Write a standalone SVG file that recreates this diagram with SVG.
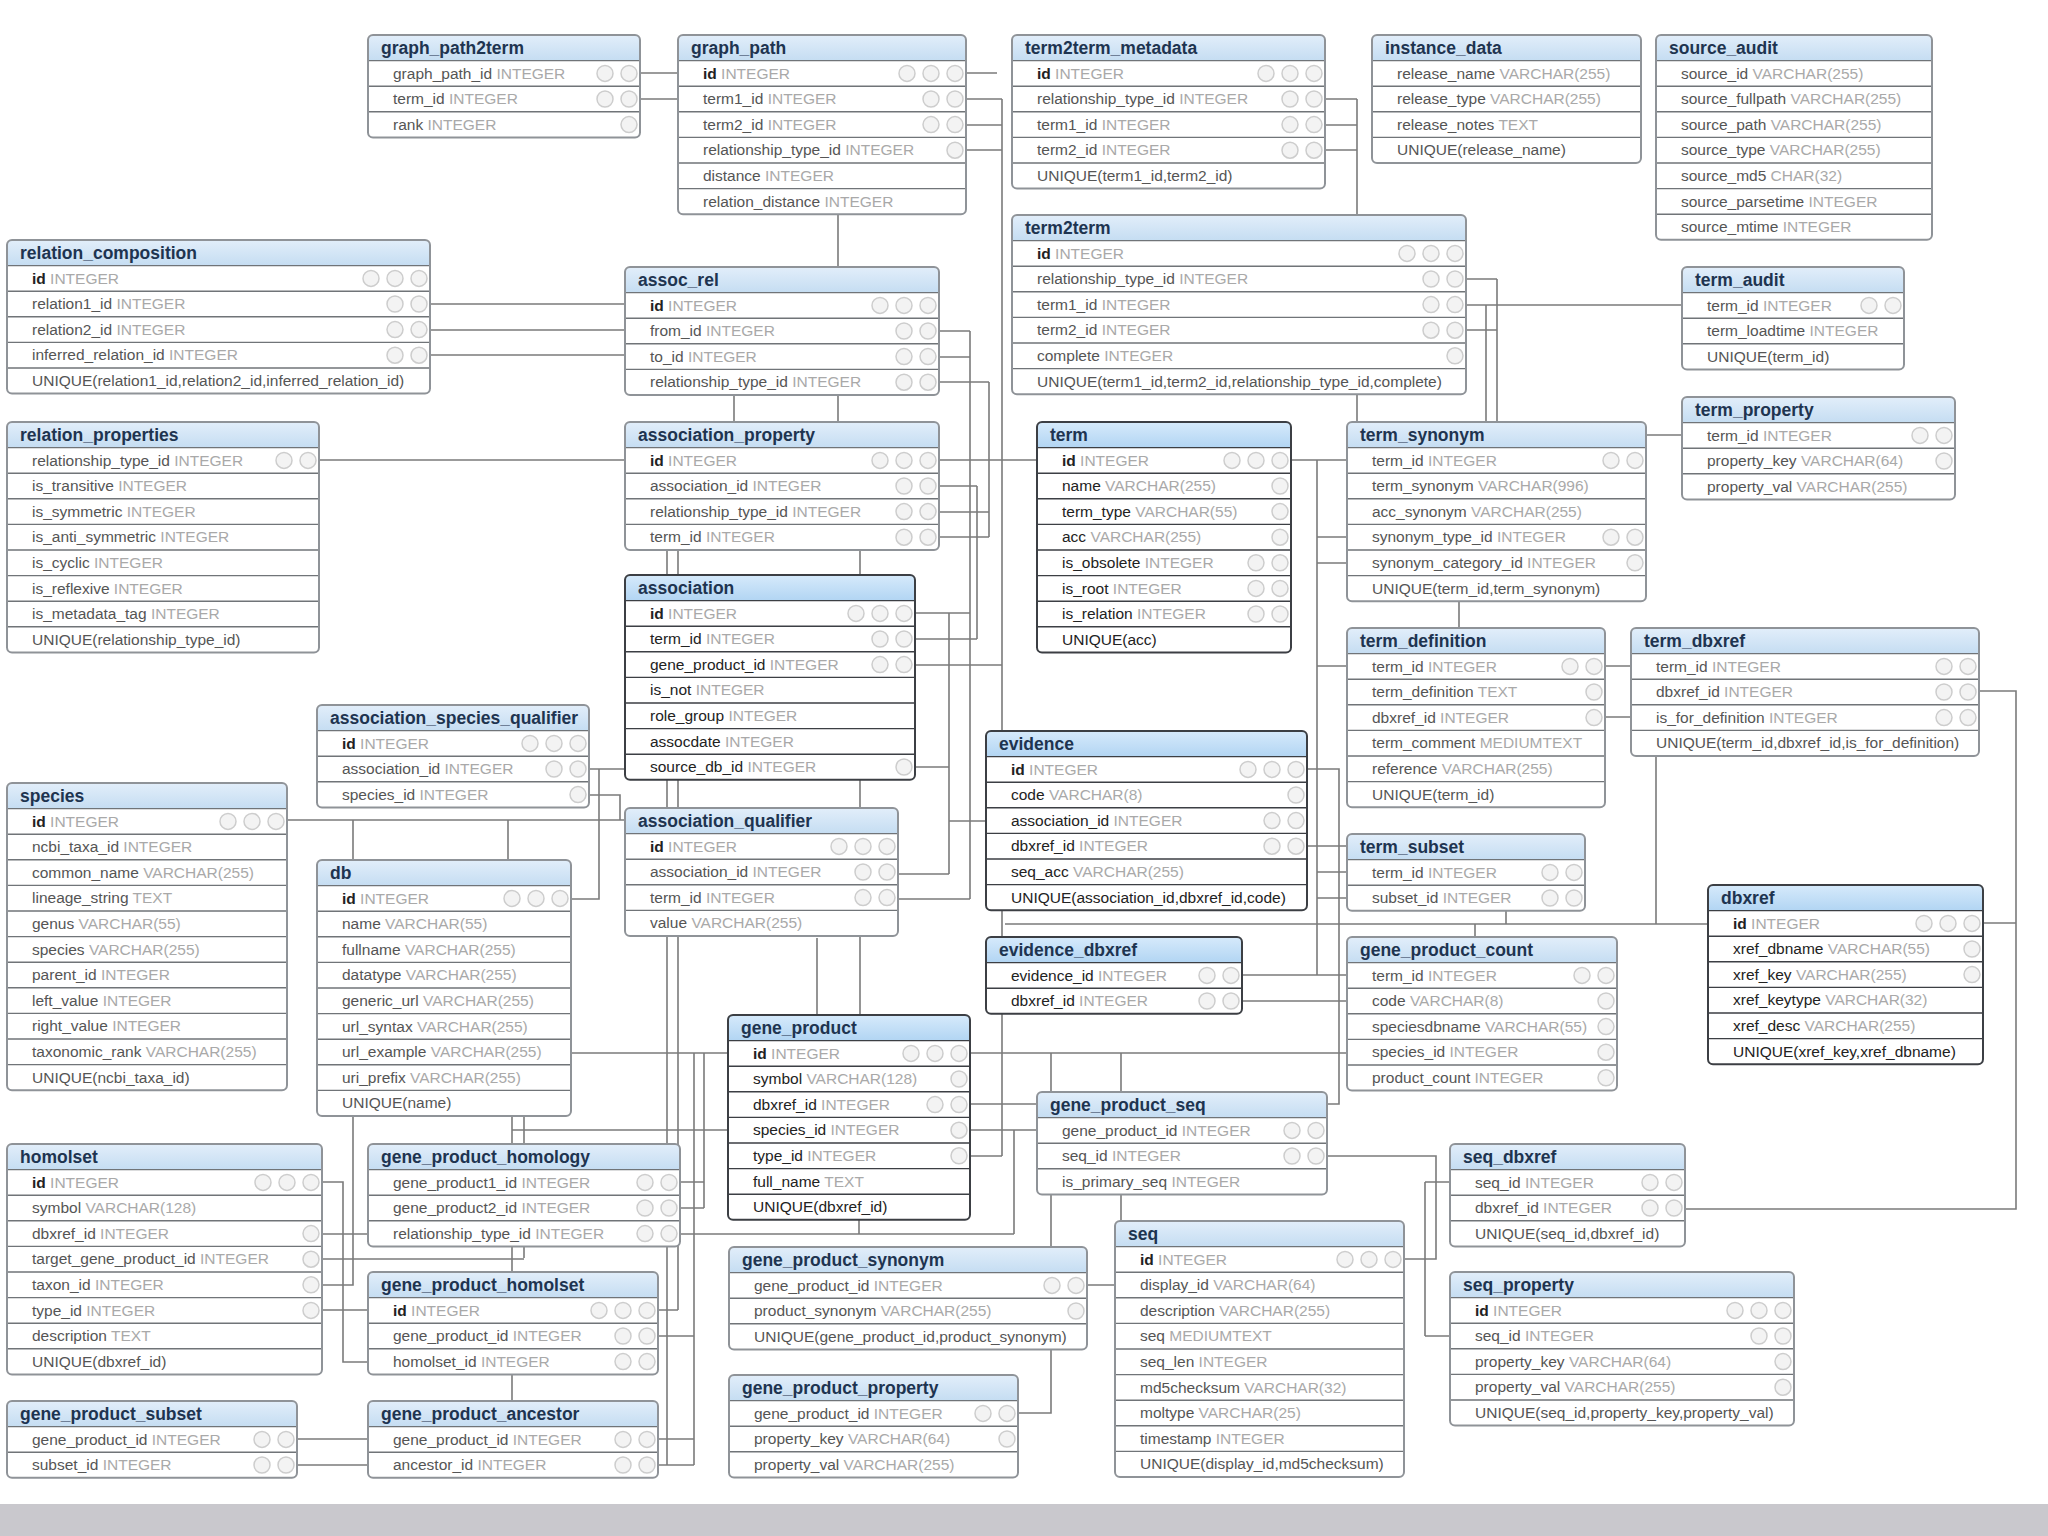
<svg xmlns="http://www.w3.org/2000/svg" xmlns:xlink="http://www.w3.org/1999/xlink" width="2048" height="1536" viewBox="0 0 2048 1536">
<defs>
<linearGradient id="hg" x1="0" y1="0" x2="0" y2="1"><stop offset="0" stop-color="#e2eefa"/><stop offset="1" stop-color="#c5ddf2"/></linearGradient>
<linearGradient id="hg2" x1="0" y1="0" x2="0" y2="1"><stop offset="0" stop-color="#d6eafb"/><stop offset="1" stop-color="#b2d5f3"/></linearGradient>
<g id="i1"><circle cx="-11" cy="0" r="8" class="ic"/></g>
<g id="i2"><circle cx="-35" cy="0" r="8" class="ic"/><circle cx="-11" cy="0" r="8" class="ic"/></g>
<g id="i3"><circle cx="-59" cy="0" r="8" class="ic"/><circle cx="-35" cy="0" r="8" class="ic"/><circle cx="-11" cy="0" r="8" class="ic"/></g>
</defs>
<style>
.cn{fill:none;stroke:#7b7b7b;stroke-width:1.6}
.bg{fill:#fff}
.hd{fill:url(#hg)}
.dk .hd{fill:url(#hg2)}
.ol{fill:none;stroke:#8f9398;stroke-width:2}
.dk .ol{stroke:#3c3f44}
.sp{fill:none;stroke:#707478;stroke-width:1.4}
.dk .sp{stroke:#3c3f44}
.h{font-family:"Liberation Sans",Arial,sans-serif;font-weight:bold;font-size:17.5px;fill:#1e3450}
.c{font-family:"Liberation Sans",Arial,sans-serif;font-size:15.5px;fill:#555}
.dk .c{fill:#222}
.t{fill:#a9a9a9}
.b{font-weight:bold;fill:#222}
.ic{fill:#f3f3f3;stroke:#cdcdcd;stroke-width:1.5}
</style>
<rect width="2048" height="1536" fill="#fff"/>
<rect x="0" y="1504" width="2048" height="32" fill="#c9c8cd"/>

<g id="connectors">
<path class="cn" d="M640,73H678 M640,99H678 M966,73H997
M966,99H1002 M966,125H1002 M966,150H1002 M1002,99V1156 M970,1156H1002
M1325,99H1357 M1325,125H1357 M1325,150H1357 M1357,99V215
M1466,279H1497 M1466,330H1497 M1466,305H1682 M1497,279V422 M1486,305V422 M1357,395V422
M1291,460H1347 M1317,460V975 M1317,537H1347 M1317,563H1347 M1317,666H1347 M1317,872H1347 M1317,898H1347 M1317,975H1347
M1646,435H1682 M1605,666H1631 M1605,717H1631 M1459,601V628
M1656,756V924 M1005,924H1708
M1983,923H2016V691H1979 M2016,923V1209H1685
M1506,911V924 M1475,924V937
M1307,769H1339V1104H1327 M1307,846H1347 M1242,975H1347 M1242,1001H1347
M949,821H986
M939,331H970 M939,357H970 M970,331V899 M898,899H970
M939,382H989 M989,382V537 M939,512H989 M939,537H989
M939,486H977 M977,486V639 M915,639H977 M915,613H970 M915,665H1002
M915,767H949 M949,613V874 M898,874H949
M939,460H1037 M319,460H625
M430,304H625 M430,330H625 M430,355H625
M838,214V422 M734,395V422 M667,550V1465 M678,550V1310 M860,550V1015 M817,938V1015
M589,769H625 M599,769V899H571 M589,795H620V820 M287,820H625 M353,820V860 M508,820V860
M571,1053H728 M694,1053V1465 M704,1053V1208 M680,1182H704 M680,1208H704 M680,1234H1014 M859,1220V1234 M1014,1130V1234
M970,1130H1037 M970,1104H1037 M970,1053H1347 M1051,1053V1413H1018 M1121,1053V1221
M658,1336H694 M658,1310H678 M658,1439H694 M658,1465H694
M512,1116V1401 M524,1116V1258 M322,1259H524 M512,1130H728
M1087,1285H1115 M1327,1156H1436V1259H1404 M1425,1182V1336 M1425,1182H1450 M1425,1336H1450
M322,1182H343V1362H368 M322,1234H368 M322,1285H353V1116 M322,1310H368 M297,1439H368 M297,1465H368"/>
</g>

<g id="graph_path2term" transform="translate(368,35)">
<rect class="bg" width="272" height="102.4" rx="5"/>
<path class="hd" d="M0,25.6V5a5,5 0 0 1 5-5H267a5,5 0 0 1 5,5V25.6Z"/>
<text class="h" x="13" y="18.5">graph_path2term</text>
<path class="sp" d="M0,25.6H272M0,51.2H272M0,76.8H272"/>
<text class="c" x="25" y="43.6">graph_path_id <tspan class="t">INTEGER</tspan></text>
<text class="c" x="25" y="69.2">term_id <tspan class="t">INTEGER</tspan></text>
<text class="c" x="25" y="94.8">rank <tspan class="t">INTEGER</tspan></text>
<use xlink:href="#i2" x="272" y="38.4"/><use xlink:href="#i2" x="272" y="64"/><use xlink:href="#i1" x="272" y="89.6"/>
<rect class="ol" width="272" height="102.4" rx="5"/>
</g>

<g id="graph_path" transform="translate(678,35)">
<rect class="bg" width="288" height="179.2" rx="5"/>
<path class="hd" d="M0,25.6V5a5,5 0 0 1 5-5H283a5,5 0 0 1 5,5V25.6Z"/>
<text class="h" x="13" y="18.5">graph_path</text>
<path class="sp" d="M0,25.6H288M0,51.2H288M0,76.8H288M0,102.4H288M0,128H288M0,153.6H288"/>
<text class="c" x="25" y="43.6"><tspan class="b">id</tspan> <tspan class="t">INTEGER</tspan></text>
<text class="c" x="25" y="69.2">term1_id <tspan class="t">INTEGER</tspan></text>
<text class="c" x="25" y="94.8">term2_id <tspan class="t">INTEGER</tspan></text>
<text class="c" x="25" y="120.4">relationship_type_id <tspan class="t">INTEGER</tspan></text>
<text class="c" x="25" y="146">distance <tspan class="t">INTEGER</tspan></text>
<text class="c" x="25" y="171.6">relation_distance <tspan class="t">INTEGER</tspan></text>
<use xlink:href="#i3" x="288" y="38.4"/><use xlink:href="#i2" x="288" y="64"/><use xlink:href="#i2" x="288" y="89.6"/><use xlink:href="#i1" x="288" y="115.2"/>
<rect class="ol" width="288" height="179.2" rx="5"/>
</g>

<g id="term2term_metadata" transform="translate(1012,35)">
<rect class="bg" width="313" height="153.6" rx="5"/>
<path class="hd" d="M0,25.6V5a5,5 0 0 1 5-5H308a5,5 0 0 1 5,5V25.6Z"/>
<text class="h" x="13" y="18.5">term2term_metadata</text>
<path class="sp" d="M0,25.6H313M0,51.2H313M0,76.8H313M0,102.4H313M0,128H313"/>
<text class="c" x="25" y="43.6"><tspan class="b">id</tspan> <tspan class="t">INTEGER</tspan></text>
<text class="c" x="25" y="69.2">relationship_type_id <tspan class="t">INTEGER</tspan></text>
<text class="c" x="25" y="94.8">term1_id <tspan class="t">INTEGER</tspan></text>
<text class="c" x="25" y="120.4">term2_id <tspan class="t">INTEGER</tspan></text>
<text class="c" x="25" y="146">UNIQUE(term1_id,term2_id)</text>
<use xlink:href="#i3" x="313" y="38.4"/><use xlink:href="#i2" x="313" y="64"/><use xlink:href="#i2" x="313" y="89.6"/><use xlink:href="#i2" x="313" y="115.2"/>
<rect class="ol" width="313" height="153.6" rx="5"/>
</g>

<g id="instance_data" transform="translate(1372,35)">
<rect class="bg" width="269" height="128" rx="5"/>
<path class="hd" d="M0,25.6V5a5,5 0 0 1 5-5H264a5,5 0 0 1 5,5V25.6Z"/>
<text class="h" x="13" y="18.5">instance_data</text>
<path class="sp" d="M0,25.6H269M0,51.2H269M0,76.8H269M0,102.4H269"/>
<text class="c" x="25" y="43.6">release_name <tspan class="t">VARCHAR(255)</tspan></text>
<text class="c" x="25" y="69.2">release_type <tspan class="t">VARCHAR(255)</tspan></text>
<text class="c" x="25" y="94.8">release_notes <tspan class="t">TEXT</tspan></text>
<text class="c" x="25" y="120.4">UNIQUE(release_name)</text>
<rect class="ol" width="269" height="128" rx="5"/>
</g>

<g id="source_audit" transform="translate(1656,35)">
<rect class="bg" width="276" height="204.8" rx="5"/>
<path class="hd" d="M0,25.6V5a5,5 0 0 1 5-5H271a5,5 0 0 1 5,5V25.6Z"/>
<text class="h" x="13" y="18.5">source_audit</text>
<path class="sp" d="M0,25.6H276M0,51.2H276M0,76.8H276M0,102.4H276M0,128H276M0,153.6H276M0,179.2H276"/>
<text class="c" x="25" y="43.6">source_id <tspan class="t">VARCHAR(255)</tspan></text>
<text class="c" x="25" y="69.2">source_fullpath <tspan class="t">VARCHAR(255)</tspan></text>
<text class="c" x="25" y="94.8">source_path <tspan class="t">VARCHAR(255)</tspan></text>
<text class="c" x="25" y="120.4">source_type <tspan class="t">VARCHAR(255)</tspan></text>
<text class="c" x="25" y="146">source_md5 <tspan class="t">CHAR(32)</tspan></text>
<text class="c" x="25" y="171.6">source_parsetime <tspan class="t">INTEGER</tspan></text>
<text class="c" x="25" y="197.2">source_mtime <tspan class="t">INTEGER</tspan></text>
<rect class="ol" width="276" height="204.8" rx="5"/>
</g>

<g id="relation_composition" transform="translate(7,240)">
<rect class="bg" width="423" height="153.6" rx="5"/>
<path class="hd" d="M0,25.6V5a5,5 0 0 1 5-5H418a5,5 0 0 1 5,5V25.6Z"/>
<text class="h" x="13" y="18.5">relation_composition</text>
<path class="sp" d="M0,25.6H423M0,51.2H423M0,76.8H423M0,102.4H423M0,128H423"/>
<text class="c" x="25" y="43.6"><tspan class="b">id</tspan> <tspan class="t">INTEGER</tspan></text>
<text class="c" x="25" y="69.2">relation1_id <tspan class="t">INTEGER</tspan></text>
<text class="c" x="25" y="94.8">relation2_id <tspan class="t">INTEGER</tspan></text>
<text class="c" x="25" y="120.4">inferred_relation_id <tspan class="t">INTEGER</tspan></text>
<text class="c" x="25" y="146">UNIQUE(relation1_id,relation2_id,inferred_relation_id)</text>
<use xlink:href="#i3" x="423" y="38.4"/><use xlink:href="#i2" x="423" y="64"/><use xlink:href="#i2" x="423" y="89.6"/><use xlink:href="#i2" x="423" y="115.2"/>
<rect class="ol" width="423" height="153.6" rx="5"/>
</g>

<g id="relation_properties" transform="translate(7,422)">
<rect class="bg" width="312" height="230.4" rx="5"/>
<path class="hd" d="M0,25.6V5a5,5 0 0 1 5-5H307a5,5 0 0 1 5,5V25.6Z"/>
<text class="h" x="13" y="18.5">relation_properties</text>
<path class="sp" d="M0,25.6H312M0,51.2H312M0,76.8H312M0,102.4H312M0,128H312M0,153.6H312M0,179.2H312M0,204.8H312"/>
<text class="c" x="25" y="43.6">relationship_type_id <tspan class="t">INTEGER</tspan></text>
<text class="c" x="25" y="69.2">is_transitive <tspan class="t">INTEGER</tspan></text>
<text class="c" x="25" y="94.8">is_symmetric <tspan class="t">INTEGER</tspan></text>
<text class="c" x="25" y="120.4">is_anti_symmetric <tspan class="t">INTEGER</tspan></text>
<text class="c" x="25" y="146">is_cyclic <tspan class="t">INTEGER</tspan></text>
<text class="c" x="25" y="171.6">is_reflexive <tspan class="t">INTEGER</tspan></text>
<text class="c" x="25" y="197.2">is_metadata_tag <tspan class="t">INTEGER</tspan></text>
<text class="c" x="25" y="222.8">UNIQUE(relationship_type_id)</text>
<use xlink:href="#i2" x="312" y="38.4"/>
<rect class="ol" width="312" height="230.4" rx="5"/>
</g>

<g id="assoc_rel" transform="translate(625,267)">
<rect class="bg" width="314" height="128" rx="5"/>
<path class="hd" d="M0,25.6V5a5,5 0 0 1 5-5H309a5,5 0 0 1 5,5V25.6Z"/>
<text class="h" x="13" y="18.5">assoc_rel</text>
<path class="sp" d="M0,25.6H314M0,51.2H314M0,76.8H314M0,102.4H314"/>
<text class="c" x="25" y="43.6"><tspan class="b">id</tspan> <tspan class="t">INTEGER</tspan></text>
<text class="c" x="25" y="69.2">from_id <tspan class="t">INTEGER</tspan></text>
<text class="c" x="25" y="94.8">to_id <tspan class="t">INTEGER</tspan></text>
<text class="c" x="25" y="120.4">relationship_type_id <tspan class="t">INTEGER</tspan></text>
<use xlink:href="#i3" x="314" y="38.4"/><use xlink:href="#i2" x="314" y="64"/><use xlink:href="#i2" x="314" y="89.6"/><use xlink:href="#i2" x="314" y="115.2"/>
<rect class="ol" width="314" height="128" rx="5"/>
</g>

<g id="association_property" transform="translate(625,422)">
<rect class="bg" width="314" height="128" rx="5"/>
<path class="hd" d="M0,25.6V5a5,5 0 0 1 5-5H309a5,5 0 0 1 5,5V25.6Z"/>
<text class="h" x="13" y="18.5">association_property</text>
<path class="sp" d="M0,25.6H314M0,51.2H314M0,76.8H314M0,102.4H314"/>
<text class="c" x="25" y="43.6"><tspan class="b">id</tspan> <tspan class="t">INTEGER</tspan></text>
<text class="c" x="25" y="69.2">association_id <tspan class="t">INTEGER</tspan></text>
<text class="c" x="25" y="94.8">relationship_type_id <tspan class="t">INTEGER</tspan></text>
<text class="c" x="25" y="120.4">term_id <tspan class="t">INTEGER</tspan></text>
<use xlink:href="#i3" x="314" y="38.4"/><use xlink:href="#i2" x="314" y="64"/><use xlink:href="#i2" x="314" y="89.6"/><use xlink:href="#i2" x="314" y="115.2"/>
<rect class="ol" width="314" height="128" rx="5"/>
</g>

<g id="term2term" transform="translate(1012,215)">
<rect class="bg" width="454" height="179.2" rx="5"/>
<path class="hd" d="M0,25.6V5a5,5 0 0 1 5-5H449a5,5 0 0 1 5,5V25.6Z"/>
<text class="h" x="13" y="18.5">term2term</text>
<path class="sp" d="M0,25.6H454M0,51.2H454M0,76.8H454M0,102.4H454M0,128H454M0,153.6H454"/>
<text class="c" x="25" y="43.6"><tspan class="b">id</tspan> <tspan class="t">INTEGER</tspan></text>
<text class="c" x="25" y="69.2">relationship_type_id <tspan class="t">INTEGER</tspan></text>
<text class="c" x="25" y="94.8">term1_id <tspan class="t">INTEGER</tspan></text>
<text class="c" x="25" y="120.4">term2_id <tspan class="t">INTEGER</tspan></text>
<text class="c" x="25" y="146">complete <tspan class="t">INTEGER</tspan></text>
<text class="c" x="25" y="171.6">UNIQUE(term1_id,term2_id,relationship_type_id,complete)</text>
<use xlink:href="#i3" x="454" y="38.4"/><use xlink:href="#i2" x="454" y="64"/><use xlink:href="#i2" x="454" y="89.6"/><use xlink:href="#i2" x="454" y="115.2"/><use xlink:href="#i1" x="454" y="140.8"/>
<rect class="ol" width="454" height="179.2" rx="5"/>
</g>

<g id="term_audit" transform="translate(1682,267)">
<rect class="bg" width="222" height="102.4" rx="5"/>
<path class="hd" d="M0,25.6V5a5,5 0 0 1 5-5H217a5,5 0 0 1 5,5V25.6Z"/>
<text class="h" x="13" y="18.5">term_audit</text>
<path class="sp" d="M0,25.6H222M0,51.2H222M0,76.8H222"/>
<text class="c" x="25" y="43.6">term_id <tspan class="t">INTEGER</tspan></text>
<text class="c" x="25" y="69.2">term_loadtime <tspan class="t">INTEGER</tspan></text>
<text class="c" x="25" y="94.8">UNIQUE(term_id)</text>
<use xlink:href="#i2" x="222" y="38.4"/>
<rect class="ol" width="222" height="102.4" rx="5"/>
</g>

<g id="term_property" transform="translate(1682,397)">
<rect class="bg" width="273" height="102.4" rx="5"/>
<path class="hd" d="M0,25.6V5a5,5 0 0 1 5-5H268a5,5 0 0 1 5,5V25.6Z"/>
<text class="h" x="13" y="18.5">term_property</text>
<path class="sp" d="M0,25.6H273M0,51.2H273M0,76.8H273"/>
<text class="c" x="25" y="43.6">term_id <tspan class="t">INTEGER</tspan></text>
<text class="c" x="25" y="69.2">property_key <tspan class="t">VARCHAR(64)</tspan></text>
<text class="c" x="25" y="94.8">property_val <tspan class="t">VARCHAR(255)</tspan></text>
<use xlink:href="#i2" x="273" y="38.4"/><use xlink:href="#i1" x="273" y="64"/>
<rect class="ol" width="273" height="102.4" rx="5"/>
</g>

<g id="term" class="dk" transform="translate(1037,422)">
<rect class="bg" width="254" height="230.4" rx="5"/>
<path class="hd" d="M0,25.6V5a5,5 0 0 1 5-5H249a5,5 0 0 1 5,5V25.6Z"/>
<text class="h" x="13" y="18.5">term</text>
<path class="sp" d="M0,25.6H254M0,51.2H254M0,76.8H254M0,102.4H254M0,128H254M0,153.6H254M0,179.2H254M0,204.8H254"/>
<text class="c" x="25" y="43.6"><tspan class="b">id</tspan> <tspan class="t">INTEGER</tspan></text>
<text class="c" x="25" y="69.2">name <tspan class="t">VARCHAR(255)</tspan></text>
<text class="c" x="25" y="94.8">term_type <tspan class="t">VARCHAR(55)</tspan></text>
<text class="c" x="25" y="120.4">acc <tspan class="t">VARCHAR(255)</tspan></text>
<text class="c" x="25" y="146">is_obsolete <tspan class="t">INTEGER</tspan></text>
<text class="c" x="25" y="171.6">is_root <tspan class="t">INTEGER</tspan></text>
<text class="c" x="25" y="197.2">is_relation <tspan class="t">INTEGER</tspan></text>
<text class="c" x="25" y="222.8">UNIQUE(acc)</text>
<use xlink:href="#i3" x="254" y="38.4"/><use xlink:href="#i1" x="254" y="64"/><use xlink:href="#i1" x="254" y="89.6"/><use xlink:href="#i1" x="254" y="115.2"/><use xlink:href="#i2" x="254" y="140.8"/><use xlink:href="#i2" x="254" y="166.4"/><use xlink:href="#i2" x="254" y="192"/>
<rect class="ol" width="254" height="230.4" rx="5"/>
</g>

<g id="term_synonym" transform="translate(1347,422)">
<rect class="bg" width="299" height="179.2" rx="5"/>
<path class="hd" d="M0,25.6V5a5,5 0 0 1 5-5H294a5,5 0 0 1 5,5V25.6Z"/>
<text class="h" x="13" y="18.5">term_synonym</text>
<path class="sp" d="M0,25.6H299M0,51.2H299M0,76.8H299M0,102.4H299M0,128H299M0,153.6H299"/>
<text class="c" x="25" y="43.6">term_id <tspan class="t">INTEGER</tspan></text>
<text class="c" x="25" y="69.2">term_synonym <tspan class="t">VARCHAR(996)</tspan></text>
<text class="c" x="25" y="94.8">acc_synonym <tspan class="t">VARCHAR(255)</tspan></text>
<text class="c" x="25" y="120.4">synonym_type_id <tspan class="t">INTEGER</tspan></text>
<text class="c" x="25" y="146">synonym_category_id <tspan class="t">INTEGER</tspan></text>
<text class="c" x="25" y="171.6">UNIQUE(term_id,term_synonym)</text>
<use xlink:href="#i2" x="299" y="38.4"/><use xlink:href="#i2" x="299" y="115.2"/><use xlink:href="#i1" x="299" y="140.8"/>
<rect class="ol" width="299" height="179.2" rx="5"/>
</g>

<g id="term_definition" transform="translate(1347,628)">
<rect class="bg" width="258" height="179.2" rx="5"/>
<path class="hd" d="M0,25.6V5a5,5 0 0 1 5-5H253a5,5 0 0 1 5,5V25.6Z"/>
<text class="h" x="13" y="18.5">term_definition</text>
<path class="sp" d="M0,25.6H258M0,51.2H258M0,76.8H258M0,102.4H258M0,128H258M0,153.6H258"/>
<text class="c" x="25" y="43.6">term_id <tspan class="t">INTEGER</tspan></text>
<text class="c" x="25" y="69.2">term_definition <tspan class="t">TEXT</tspan></text>
<text class="c" x="25" y="94.8">dbxref_id <tspan class="t">INTEGER</tspan></text>
<text class="c" x="25" y="120.4">term_comment <tspan class="t">MEDIUMTEXT</tspan></text>
<text class="c" x="25" y="146">reference <tspan class="t">VARCHAR(255)</tspan></text>
<text class="c" x="25" y="171.6">UNIQUE(term_id)</text>
<use xlink:href="#i2" x="258" y="38.4"/><use xlink:href="#i1" x="258" y="64"/><use xlink:href="#i1" x="258" y="89.6"/>
<rect class="ol" width="258" height="179.2" rx="5"/>
</g>

<g id="term_dbxref" transform="translate(1631,628)">
<rect class="bg" width="348" height="128" rx="5"/>
<path class="hd" d="M0,25.6V5a5,5 0 0 1 5-5H343a5,5 0 0 1 5,5V25.6Z"/>
<text class="h" x="13" y="18.5">term_dbxref</text>
<path class="sp" d="M0,25.6H348M0,51.2H348M0,76.8H348M0,102.4H348"/>
<text class="c" x="25" y="43.6">term_id <tspan class="t">INTEGER</tspan></text>
<text class="c" x="25" y="69.2">dbxref_id <tspan class="t">INTEGER</tspan></text>
<text class="c" x="25" y="94.8">is_for_definition <tspan class="t">INTEGER</tspan></text>
<text class="c" x="25" y="120.4">UNIQUE(term_id,dbxref_id,is_for_definition)</text>
<use xlink:href="#i2" x="348" y="38.4"/><use xlink:href="#i2" x="348" y="64"/><use xlink:href="#i2" x="348" y="89.6"/>
<rect class="ol" width="348" height="128" rx="5"/>
</g>

<g id="association" class="dk" transform="translate(625,575)">
<rect class="bg" width="290" height="204.8" rx="5"/>
<path class="hd" d="M0,25.6V5a5,5 0 0 1 5-5H285a5,5 0 0 1 5,5V25.6Z"/>
<text class="h" x="13" y="18.5">association</text>
<path class="sp" d="M0,25.6H290M0,51.2H290M0,76.8H290M0,102.4H290M0,128H290M0,153.6H290M0,179.2H290"/>
<text class="c" x="25" y="43.6"><tspan class="b">id</tspan> <tspan class="t">INTEGER</tspan></text>
<text class="c" x="25" y="69.2">term_id <tspan class="t">INTEGER</tspan></text>
<text class="c" x="25" y="94.8">gene_product_id <tspan class="t">INTEGER</tspan></text>
<text class="c" x="25" y="120.4">is_not <tspan class="t">INTEGER</tspan></text>
<text class="c" x="25" y="146">role_group <tspan class="t">INTEGER</tspan></text>
<text class="c" x="25" y="171.6">assocdate <tspan class="t">INTEGER</tspan></text>
<text class="c" x="25" y="197.2">source_db_id <tspan class="t">INTEGER</tspan></text>
<use xlink:href="#i3" x="290" y="38.4"/><use xlink:href="#i2" x="290" y="64"/><use xlink:href="#i2" x="290" y="89.6"/><use xlink:href="#i1" x="290" y="192"/>
<rect class="ol" width="290" height="204.8" rx="5"/>
</g>

<g id="association_species_qualifier" transform="translate(317,705)">
<rect class="bg" width="272" height="102.4" rx="5"/>
<path class="hd" d="M0,25.6V5a5,5 0 0 1 5-5H267a5,5 0 0 1 5,5V25.6Z"/>
<text class="h" x="13" y="18.5">association_species_qualifier</text>
<path class="sp" d="M0,25.6H272M0,51.2H272M0,76.8H272"/>
<text class="c" x="25" y="43.6"><tspan class="b">id</tspan> <tspan class="t">INTEGER</tspan></text>
<text class="c" x="25" y="69.2">association_id <tspan class="t">INTEGER</tspan></text>
<text class="c" x="25" y="94.8">species_id <tspan class="t">INTEGER</tspan></text>
<use xlink:href="#i3" x="272" y="38.4"/><use xlink:href="#i2" x="272" y="64"/><use xlink:href="#i1" x="272" y="89.6"/>
<rect class="ol" width="272" height="102.4" rx="5"/>
</g>

<g id="association_qualifier" transform="translate(625,808)">
<rect class="bg" width="273" height="128" rx="5"/>
<path class="hd" d="M0,25.6V5a5,5 0 0 1 5-5H268a5,5 0 0 1 5,5V25.6Z"/>
<text class="h" x="13" y="18.5">association_qualifier</text>
<path class="sp" d="M0,25.6H273M0,51.2H273M0,76.8H273M0,102.4H273"/>
<text class="c" x="25" y="43.6"><tspan class="b">id</tspan> <tspan class="t">INTEGER</tspan></text>
<text class="c" x="25" y="69.2">association_id <tspan class="t">INTEGER</tspan></text>
<text class="c" x="25" y="94.8">term_id <tspan class="t">INTEGER</tspan></text>
<text class="c" x="25" y="120.4">value <tspan class="t">VARCHAR(255)</tspan></text>
<use xlink:href="#i3" x="273" y="38.4"/><use xlink:href="#i2" x="273" y="64"/><use xlink:href="#i2" x="273" y="89.6"/>
<rect class="ol" width="273" height="128" rx="5"/>
</g>

<g id="evidence" class="dk" transform="translate(986,731)">
<rect class="bg" width="321" height="179.2" rx="5"/>
<path class="hd" d="M0,25.6V5a5,5 0 0 1 5-5H316a5,5 0 0 1 5,5V25.6Z"/>
<text class="h" x="13" y="18.5">evidence</text>
<path class="sp" d="M0,25.6H321M0,51.2H321M0,76.8H321M0,102.4H321M0,128H321M0,153.6H321"/>
<text class="c" x="25" y="43.6"><tspan class="b">id</tspan> <tspan class="t">INTEGER</tspan></text>
<text class="c" x="25" y="69.2">code <tspan class="t">VARCHAR(8)</tspan></text>
<text class="c" x="25" y="94.8">association_id <tspan class="t">INTEGER</tspan></text>
<text class="c" x="25" y="120.4">dbxref_id <tspan class="t">INTEGER</tspan></text>
<text class="c" x="25" y="146">seq_acc <tspan class="t">VARCHAR(255)</tspan></text>
<text class="c" x="25" y="171.6">UNIQUE(association_id,dbxref_id,code)</text>
<use xlink:href="#i3" x="321" y="38.4"/><use xlink:href="#i1" x="321" y="64"/><use xlink:href="#i2" x="321" y="89.6"/><use xlink:href="#i2" x="321" y="115.2"/>
<rect class="ol" width="321" height="179.2" rx="5"/>
</g>

<g id="evidence_dbxref" class="dk" transform="translate(986,937)">
<rect class="bg" width="256" height="76.8" rx="5"/>
<path class="hd" d="M0,25.6V5a5,5 0 0 1 5-5H251a5,5 0 0 1 5,5V25.6Z"/>
<text class="h" x="13" y="18.5">evidence_dbxref</text>
<path class="sp" d="M0,25.6H256M0,51.2H256"/>
<text class="c" x="25" y="43.6">evidence_id <tspan class="t">INTEGER</tspan></text>
<text class="c" x="25" y="69.2">dbxref_id <tspan class="t">INTEGER</tspan></text>
<use xlink:href="#i2" x="256" y="38.4"/><use xlink:href="#i2" x="256" y="64"/>
<rect class="ol" width="256" height="76.8" rx="5"/>
</g>

<g id="term_subset" transform="translate(1347,834)">
<rect class="bg" width="238" height="76.8" rx="5"/>
<path class="hd" d="M0,25.6V5a5,5 0 0 1 5-5H233a5,5 0 0 1 5,5V25.6Z"/>
<text class="h" x="13" y="18.5">term_subset</text>
<path class="sp" d="M0,25.6H238M0,51.2H238"/>
<text class="c" x="25" y="43.6">term_id <tspan class="t">INTEGER</tspan></text>
<text class="c" x="25" y="69.2">subset_id <tspan class="t">INTEGER</tspan></text>
<use xlink:href="#i2" x="238" y="38.4"/><use xlink:href="#i2" x="238" y="64"/>
<rect class="ol" width="238" height="76.8" rx="5"/>
</g>

<g id="gene_product_count" transform="translate(1347,937)">
<rect class="bg" width="270" height="153.6" rx="5"/>
<path class="hd" d="M0,25.6V5a5,5 0 0 1 5-5H265a5,5 0 0 1 5,5V25.6Z"/>
<text class="h" x="13" y="18.5">gene_product_count</text>
<path class="sp" d="M0,25.6H270M0,51.2H270M0,76.8H270M0,102.4H270M0,128H270"/>
<text class="c" x="25" y="43.6">term_id <tspan class="t">INTEGER</tspan></text>
<text class="c" x="25" y="69.2">code <tspan class="t">VARCHAR(8)</tspan></text>
<text class="c" x="25" y="94.8">speciesdbname <tspan class="t">VARCHAR(55)</tspan></text>
<text class="c" x="25" y="120.4">species_id <tspan class="t">INTEGER</tspan></text>
<text class="c" x="25" y="146">product_count <tspan class="t">INTEGER</tspan></text>
<use xlink:href="#i2" x="270" y="38.4"/><use xlink:href="#i1" x="270" y="64"/><use xlink:href="#i1" x="270" y="89.6"/><use xlink:href="#i1" x="270" y="115.2"/><use xlink:href="#i1" x="270" y="140.8"/>
<rect class="ol" width="270" height="153.6" rx="5"/>
</g>

<g id="dbxref" class="dk" transform="translate(1708,885)">
<rect class="bg" width="275" height="179.2" rx="5"/>
<path class="hd" d="M0,25.6V5a5,5 0 0 1 5-5H270a5,5 0 0 1 5,5V25.6Z"/>
<text class="h" x="13" y="18.5">dbxref</text>
<path class="sp" d="M0,25.6H275M0,51.2H275M0,76.8H275M0,102.4H275M0,128H275M0,153.6H275"/>
<text class="c" x="25" y="43.6"><tspan class="b">id</tspan> <tspan class="t">INTEGER</tspan></text>
<text class="c" x="25" y="69.2">xref_dbname <tspan class="t">VARCHAR(55)</tspan></text>
<text class="c" x="25" y="94.8">xref_key <tspan class="t">VARCHAR(255)</tspan></text>
<text class="c" x="25" y="120.4">xref_keytype <tspan class="t">VARCHAR(32)</tspan></text>
<text class="c" x="25" y="146">xref_desc <tspan class="t">VARCHAR(255)</tspan></text>
<text class="c" x="25" y="171.6">UNIQUE(xref_key,xref_dbname)</text>
<use xlink:href="#i3" x="275" y="38.4"/><use xlink:href="#i1" x="275" y="64"/><use xlink:href="#i1" x="275" y="89.6"/>
<rect class="ol" width="275" height="179.2" rx="5"/>
</g>

<g id="species" transform="translate(7,783)">
<rect class="bg" width="280" height="307.2" rx="5"/>
<path class="hd" d="M0,25.6V5a5,5 0 0 1 5-5H275a5,5 0 0 1 5,5V25.6Z"/>
<text class="h" x="13" y="18.5">species</text>
<path class="sp" d="M0,25.6H280M0,51.2H280M0,76.8H280M0,102.4H280M0,128H280M0,153.6H280M0,179.2H280M0,204.8H280M0,230.4H280M0,256H280M0,281.6H280"/>
<text class="c" x="25" y="43.6"><tspan class="b">id</tspan> <tspan class="t">INTEGER</tspan></text>
<text class="c" x="25" y="69.2">ncbi_taxa_id <tspan class="t">INTEGER</tspan></text>
<text class="c" x="25" y="94.8">common_name <tspan class="t">VARCHAR(255)</tspan></text>
<text class="c" x="25" y="120.4">lineage_string <tspan class="t">TEXT</tspan></text>
<text class="c" x="25" y="146">genus <tspan class="t">VARCHAR(55)</tspan></text>
<text class="c" x="25" y="171.6">species <tspan class="t">VARCHAR(255)</tspan></text>
<text class="c" x="25" y="197.2">parent_id <tspan class="t">INTEGER</tspan></text>
<text class="c" x="25" y="222.8">left_value <tspan class="t">INTEGER</tspan></text>
<text class="c" x="25" y="248.4">right_value <tspan class="t">INTEGER</tspan></text>
<text class="c" x="25" y="274">taxonomic_rank <tspan class="t">VARCHAR(255)</tspan></text>
<text class="c" x="25" y="299.6">UNIQUE(ncbi_taxa_id)</text>
<use xlink:href="#i3" x="280" y="38.4"/>
<rect class="ol" width="280" height="307.2" rx="5"/>
</g>

<g id="db" transform="translate(317,860)">
<rect class="bg" width="254" height="256" rx="5"/>
<path class="hd" d="M0,25.6V5a5,5 0 0 1 5-5H249a5,5 0 0 1 5,5V25.6Z"/>
<text class="h" x="13" y="18.5">db</text>
<path class="sp" d="M0,25.6H254M0,51.2H254M0,76.8H254M0,102.4H254M0,128H254M0,153.6H254M0,179.2H254M0,204.8H254M0,230.4H254"/>
<text class="c" x="25" y="43.6"><tspan class="b">id</tspan> <tspan class="t">INTEGER</tspan></text>
<text class="c" x="25" y="69.2">name <tspan class="t">VARCHAR(55)</tspan></text>
<text class="c" x="25" y="94.8">fullname <tspan class="t">VARCHAR(255)</tspan></text>
<text class="c" x="25" y="120.4">datatype <tspan class="t">VARCHAR(255)</tspan></text>
<text class="c" x="25" y="146">generic_url <tspan class="t">VARCHAR(255)</tspan></text>
<text class="c" x="25" y="171.6">url_syntax <tspan class="t">VARCHAR(255)</tspan></text>
<text class="c" x="25" y="197.2">url_example <tspan class="t">VARCHAR(255)</tspan></text>
<text class="c" x="25" y="222.8">uri_prefix <tspan class="t">VARCHAR(255)</tspan></text>
<text class="c" x="25" y="248.4">UNIQUE(name)</text>
<use xlink:href="#i3" x="254" y="38.4"/>
<rect class="ol" width="254" height="256" rx="5"/>
</g>

<g id="gene_product" class="dk" transform="translate(728,1015)">
<rect class="bg" width="242" height="204.8" rx="5"/>
<path class="hd" d="M0,25.6V5a5,5 0 0 1 5-5H237a5,5 0 0 1 5,5V25.6Z"/>
<text class="h" x="13" y="18.5">gene_product</text>
<path class="sp" d="M0,25.6H242M0,51.2H242M0,76.8H242M0,102.4H242M0,128H242M0,153.6H242M0,179.2H242"/>
<text class="c" x="25" y="43.6"><tspan class="b">id</tspan> <tspan class="t">INTEGER</tspan></text>
<text class="c" x="25" y="69.2">symbol <tspan class="t">VARCHAR(128)</tspan></text>
<text class="c" x="25" y="94.8">dbxref_id <tspan class="t">INTEGER</tspan></text>
<text class="c" x="25" y="120.4">species_id <tspan class="t">INTEGER</tspan></text>
<text class="c" x="25" y="146">type_id <tspan class="t">INTEGER</tspan></text>
<text class="c" x="25" y="171.6">full_name <tspan class="t">TEXT</tspan></text>
<text class="c" x="25" y="197.2">UNIQUE(dbxref_id)</text>
<use xlink:href="#i3" x="242" y="38.4"/><use xlink:href="#i1" x="242" y="64"/><use xlink:href="#i2" x="242" y="89.6"/><use xlink:href="#i1" x="242" y="115.2"/><use xlink:href="#i1" x="242" y="140.8"/>
<rect class="ol" width="242" height="204.8" rx="5"/>
</g>

<g id="gene_product_seq" transform="translate(1037,1092)">
<rect class="bg" width="290" height="102.4" rx="5"/>
<path class="hd" d="M0,25.6V5a5,5 0 0 1 5-5H285a5,5 0 0 1 5,5V25.6Z"/>
<text class="h" x="13" y="18.5">gene_product_seq</text>
<path class="sp" d="M0,25.6H290M0,51.2H290M0,76.8H290"/>
<text class="c" x="25" y="43.6">gene_product_id <tspan class="t">INTEGER</tspan></text>
<text class="c" x="25" y="69.2">seq_id <tspan class="t">INTEGER</tspan></text>
<text class="c" x="25" y="94.8">is_primary_seq <tspan class="t">INTEGER</tspan></text>
<use xlink:href="#i2" x="290" y="38.4"/><use xlink:href="#i2" x="290" y="64"/>
<rect class="ol" width="290" height="102.4" rx="5"/>
</g>

<g id="homolset" transform="translate(7,1144)">
<rect class="bg" width="315" height="230.4" rx="5"/>
<path class="hd" d="M0,25.6V5a5,5 0 0 1 5-5H310a5,5 0 0 1 5,5V25.6Z"/>
<text class="h" x="13" y="18.5">homolset</text>
<path class="sp" d="M0,25.6H315M0,51.2H315M0,76.8H315M0,102.4H315M0,128H315M0,153.6H315M0,179.2H315M0,204.8H315"/>
<text class="c" x="25" y="43.6"><tspan class="b">id</tspan> <tspan class="t">INTEGER</tspan></text>
<text class="c" x="25" y="69.2">symbol <tspan class="t">VARCHAR(128)</tspan></text>
<text class="c" x="25" y="94.8">dbxref_id <tspan class="t">INTEGER</tspan></text>
<text class="c" x="25" y="120.4">target_gene_product_id <tspan class="t">INTEGER</tspan></text>
<text class="c" x="25" y="146">taxon_id <tspan class="t">INTEGER</tspan></text>
<text class="c" x="25" y="171.6">type_id <tspan class="t">INTEGER</tspan></text>
<text class="c" x="25" y="197.2">description <tspan class="t">TEXT</tspan></text>
<text class="c" x="25" y="222.8">UNIQUE(dbxref_id)</text>
<use xlink:href="#i3" x="315" y="38.4"/><use xlink:href="#i1" x="315" y="89.6"/><use xlink:href="#i1" x="315" y="115.2"/><use xlink:href="#i1" x="315" y="140.8"/><use xlink:href="#i1" x="315" y="166.4"/>
<rect class="ol" width="315" height="230.4" rx="5"/>
</g>

<g id="gene_product_homology" transform="translate(368,1144)">
<rect class="bg" width="312" height="102.4" rx="5"/>
<path class="hd" d="M0,25.6V5a5,5 0 0 1 5-5H307a5,5 0 0 1 5,5V25.6Z"/>
<text class="h" x="13" y="18.5">gene_product_homology</text>
<path class="sp" d="M0,25.6H312M0,51.2H312M0,76.8H312"/>
<text class="c" x="25" y="43.6">gene_product1_id <tspan class="t">INTEGER</tspan></text>
<text class="c" x="25" y="69.2">gene_product2_id <tspan class="t">INTEGER</tspan></text>
<text class="c" x="25" y="94.8">relationship_type_id <tspan class="t">INTEGER</tspan></text>
<use xlink:href="#i2" x="312" y="38.4"/><use xlink:href="#i2" x="312" y="64"/><use xlink:href="#i2" x="312" y="89.6"/>
<rect class="ol" width="312" height="102.4" rx="5"/>
</g>

<g id="gene_product_homolset" transform="translate(368,1272)">
<rect class="bg" width="290" height="102.4" rx="5"/>
<path class="hd" d="M0,25.6V5a5,5 0 0 1 5-5H285a5,5 0 0 1 5,5V25.6Z"/>
<text class="h" x="13" y="18.5">gene_product_homolset</text>
<path class="sp" d="M0,25.6H290M0,51.2H290M0,76.8H290"/>
<text class="c" x="25" y="43.6"><tspan class="b">id</tspan> <tspan class="t">INTEGER</tspan></text>
<text class="c" x="25" y="69.2">gene_product_id <tspan class="t">INTEGER</tspan></text>
<text class="c" x="25" y="94.8">homolset_id <tspan class="t">INTEGER</tspan></text>
<use xlink:href="#i3" x="290" y="38.4"/><use xlink:href="#i2" x="290" y="64"/><use xlink:href="#i2" x="290" y="89.6"/>
<rect class="ol" width="290" height="102.4" rx="5"/>
</g>

<g id="gene_product_subset" transform="translate(7,1401)">
<rect class="bg" width="290" height="76.8" rx="5"/>
<path class="hd" d="M0,25.6V5a5,5 0 0 1 5-5H285a5,5 0 0 1 5,5V25.6Z"/>
<text class="h" x="13" y="18.5">gene_product_subset</text>
<path class="sp" d="M0,25.6H290M0,51.2H290"/>
<text class="c" x="25" y="43.6">gene_product_id <tspan class="t">INTEGER</tspan></text>
<text class="c" x="25" y="69.2">subset_id <tspan class="t">INTEGER</tspan></text>
<use xlink:href="#i2" x="290" y="38.4"/><use xlink:href="#i2" x="290" y="64"/>
<rect class="ol" width="290" height="76.8" rx="5"/>
</g>

<g id="gene_product_ancestor" transform="translate(368,1401)">
<rect class="bg" width="290" height="76.8" rx="5"/>
<path class="hd" d="M0,25.6V5a5,5 0 0 1 5-5H285a5,5 0 0 1 5,5V25.6Z"/>
<text class="h" x="13" y="18.5">gene_product_ancestor</text>
<path class="sp" d="M0,25.6H290M0,51.2H290"/>
<text class="c" x="25" y="43.6">gene_product_id <tspan class="t">INTEGER</tspan></text>
<text class="c" x="25" y="69.2">ancestor_id <tspan class="t">INTEGER</tspan></text>
<use xlink:href="#i2" x="290" y="38.4"/><use xlink:href="#i2" x="290" y="64"/>
<rect class="ol" width="290" height="76.8" rx="5"/>
</g>

<g id="gene_product_synonym" transform="translate(729,1247)">
<rect class="bg" width="358" height="102.4" rx="5"/>
<path class="hd" d="M0,25.6V5a5,5 0 0 1 5-5H353a5,5 0 0 1 5,5V25.6Z"/>
<text class="h" x="13" y="18.5">gene_product_synonym</text>
<path class="sp" d="M0,25.6H358M0,51.2H358M0,76.8H358"/>
<text class="c" x="25" y="43.6">gene_product_id <tspan class="t">INTEGER</tspan></text>
<text class="c" x="25" y="69.2">product_synonym <tspan class="t">VARCHAR(255)</tspan></text>
<text class="c" x="25" y="94.8">UNIQUE(gene_product_id,product_synonym)</text>
<use xlink:href="#i2" x="358" y="38.4"/><use xlink:href="#i1" x="358" y="64"/>
<rect class="ol" width="358" height="102.4" rx="5"/>
</g>

<g id="gene_product_property" transform="translate(729,1375)">
<rect class="bg" width="289" height="102.4" rx="5"/>
<path class="hd" d="M0,25.6V5a5,5 0 0 1 5-5H284a5,5 0 0 1 5,5V25.6Z"/>
<text class="h" x="13" y="18.5">gene_product_property</text>
<path class="sp" d="M0,25.6H289M0,51.2H289M0,76.8H289"/>
<text class="c" x="25" y="43.6">gene_product_id <tspan class="t">INTEGER</tspan></text>
<text class="c" x="25" y="69.2">property_key <tspan class="t">VARCHAR(64)</tspan></text>
<text class="c" x="25" y="94.8">property_val <tspan class="t">VARCHAR(255)</tspan></text>
<use xlink:href="#i2" x="289" y="38.4"/><use xlink:href="#i1" x="289" y="64"/>
<rect class="ol" width="289" height="102.4" rx="5"/>
</g>

<g id="seq" transform="translate(1115,1221)">
<rect class="bg" width="289" height="256" rx="5"/>
<path class="hd" d="M0,25.6V5a5,5 0 0 1 5-5H284a5,5 0 0 1 5,5V25.6Z"/>
<text class="h" x="13" y="18.5">seq</text>
<path class="sp" d="M0,25.6H289M0,51.2H289M0,76.8H289M0,102.4H289M0,128H289M0,153.6H289M0,179.2H289M0,204.8H289M0,230.4H289"/>
<text class="c" x="25" y="43.6"><tspan class="b">id</tspan> <tspan class="t">INTEGER</tspan></text>
<text class="c" x="25" y="69.2">display_id <tspan class="t">VARCHAR(64)</tspan></text>
<text class="c" x="25" y="94.8">description <tspan class="t">VARCHAR(255)</tspan></text>
<text class="c" x="25" y="120.4">seq <tspan class="t">MEDIUMTEXT</tspan></text>
<text class="c" x="25" y="146">seq_len <tspan class="t">INTEGER</tspan></text>
<text class="c" x="25" y="171.6">md5checksum <tspan class="t">VARCHAR(32)</tspan></text>
<text class="c" x="25" y="197.2">moltype <tspan class="t">VARCHAR(25)</tspan></text>
<text class="c" x="25" y="222.8">timestamp <tspan class="t">INTEGER</tspan></text>
<text class="c" x="25" y="248.4">UNIQUE(display_id,md5checksum)</text>
<use xlink:href="#i3" x="289" y="38.4"/>
<rect class="ol" width="289" height="256" rx="5"/>
</g>

<g id="seq_dbxref" transform="translate(1450,1144)">
<rect class="bg" width="235" height="102.4" rx="5"/>
<path class="hd" d="M0,25.6V5a5,5 0 0 1 5-5H230a5,5 0 0 1 5,5V25.6Z"/>
<text class="h" x="13" y="18.5">seq_dbxref</text>
<path class="sp" d="M0,25.6H235M0,51.2H235M0,76.8H235"/>
<text class="c" x="25" y="43.6">seq_id <tspan class="t">INTEGER</tspan></text>
<text class="c" x="25" y="69.2">dbxref_id <tspan class="t">INTEGER</tspan></text>
<text class="c" x="25" y="94.8">UNIQUE(seq_id,dbxref_id)</text>
<use xlink:href="#i2" x="235" y="38.4"/><use xlink:href="#i2" x="235" y="64"/>
<rect class="ol" width="235" height="102.4" rx="5"/>
</g>

<g id="seq_property" transform="translate(1450,1272)">
<rect class="bg" width="344" height="153.6" rx="5"/>
<path class="hd" d="M0,25.6V5a5,5 0 0 1 5-5H339a5,5 0 0 1 5,5V25.6Z"/>
<text class="h" x="13" y="18.5">seq_property</text>
<path class="sp" d="M0,25.6H344M0,51.2H344M0,76.8H344M0,102.4H344M0,128H344"/>
<text class="c" x="25" y="43.6"><tspan class="b">id</tspan> <tspan class="t">INTEGER</tspan></text>
<text class="c" x="25" y="69.2">seq_id <tspan class="t">INTEGER</tspan></text>
<text class="c" x="25" y="94.8">property_key <tspan class="t">VARCHAR(64)</tspan></text>
<text class="c" x="25" y="120.4">property_val <tspan class="t">VARCHAR(255)</tspan></text>
<text class="c" x="25" y="146">UNIQUE(seq_id,property_key,property_val)</text>
<use xlink:href="#i3" x="344" y="38.4"/><use xlink:href="#i2" x="344" y="64"/><use xlink:href="#i1" x="344" y="89.6"/><use xlink:href="#i1" x="344" y="115.2"/>
<rect class="ol" width="344" height="153.6" rx="5"/>
</g>
</svg>
